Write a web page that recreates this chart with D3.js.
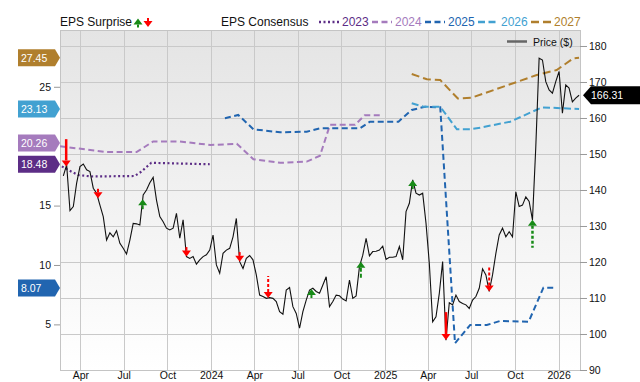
<!DOCTYPE html>
<html>
<head>
<meta charset="utf-8">
<script src="https://cdn.jsdelivr.net/npm/d3@7"></script>
<style>
  html, body { margin: 0; padding: 0; background: #fff; }
  svg { display: block; font-family: "Liberation Sans", Arial, sans-serif; }
</style>
</head>
<body>
<div id="chart"></div>
<script>
"use strict";

// weekly closing price, one value per Friday starting at priceStart
const priceStart = "2023-02-24";
const weeklyPrice = [
    143.9, 147.0, 134.3, 135.4, 141.9, 146.5, 147.2, 145.6, 145.1, 140.5,
    139.1, 135.8, 132.6, 126.1, 128.1, 127.0, 128.7, 125.2, 123.8, 122.2,
    126.1, 130.7, 130.6, 130.3, 138.6, 140.0, 142.0, 143.5, 137.2, 132.6,
    131.2, 129.4, 128.9, 129.4, 133.5, 126.6, 131.7, 121.5, 121.0, 121.5,
    119.4, 120.6, 121.5, 122.0, 123.3, 127.5, 119.2, 116.9, 122.4, 123.3,
    123.8, 127.0, 132.1, 120.1, 118.2, 121.0, 121.8, 120.6, 116.4, 110.8,
    110.4, 109.9, 110.1, 109.9, 109.0, 106.2, 105.5, 112.2, 112.9, 107.6,
    105.7, 101.6, 106.2, 109.4, 112.2, 112.7, 111.8, 111.3, 113.6, 115.9,
    107.6, 109.0, 110.8, 110.6, 109.7, 109.2, 115.0, 109.9, 110.6, 118.7,
    121.9, 126.6, 121.7, 122.9, 123.0, 123.3, 124.4, 120.7, 121.3, 121.3,
    121.5, 124.3, 120.6, 134.0, 136.3, 142.8, 139.1, 138.6, 139.1, 130.8,
    119.6, 103.4, 104.8, 111.3, 120.1, 98.3, 108.7, 108.1, 110.8, 109.0,
    108.5, 108.1, 107.1, 109.4, 110.4, 112.7, 118.1, 116.4, 111.8, 116.4,
    122.4, 127.5, 129.4, 127.0, 128.4, 127.0, 139.5, 135.4, 135.8, 138.1,
    136.8, 131.7, 152.0, 176.6, 176.1, 170.1, 167.8, 166.9, 170.1, 172.9,
    161.3, 169.2, 168.3, 164.5, 165.5, 166.31
];
const lastPrice = 166.31;

// earnings surprises (percent), drawn as arrows on the price line
const surpriseDates = [
    "2023-03-02", "2023-05-08", "2023-08-10", "2023-11-10",
    "2024-03-01", "2024-04-30", "2024-07-30", "2024-11-11",
    "2025-02-28", "2025-05-09", "2025-08-08", "2025-11-07"
];
const surprisePct = [-12.5, -1.0, 1.2, -1.0, -1.0, -9.0, 1.5, 6.5, 0.8, -13.0, -10.5, 13.0];

// EPS consensus by fiscal year: [date, estimate]
const consensusYears = ["2023", "2024", "2025", "2026", "2027"];
const eps2023 = [
    ["2023-02-21", 18.3], ["2023-03-06", 18.0], ["2023-03-27", 17.57], ["2023-04-24", 17.45],
    ["2023-07-24", 17.49], ["2023-08-07", 17.85], ["2023-08-28", 18.6], ["2023-12-29", 18.48]
];
const eps2024 = [
    ["2023-02-17", 20.0], ["2023-05-26", 19.5], ["2023-07-28", 19.5], ["2023-09-01", 20.4],
    ["2023-10-27", 20.4], ["2023-12-30", 20.1], ["2024-02-24", 20.2], ["2024-03-30", 18.9],
    ["2024-05-25", 18.6], ["2024-07-20", 18.7], ["2024-08-17", 19.2], ["2024-09-07", 21.8],
    ["2024-10-30", 21.8], ["2024-11-19", 22.6], ["2024-12-28", 22.6]
];
const eps2025 = [
    ["2024-01-30", 22.35], ["2024-02-27", 22.63], ["2024-03-30", 21.42], ["2024-05-25", 21.17],
    ["2024-07-20", 21.22], ["2024-08-17", 21.5], ["2024-11-09", 21.5], ["2024-11-30", 22.06],
    ["2025-01-29", 22.06], ["2025-02-26", 23.05], ["2025-03-26", 23.32], ["2025-04-27", 23.27],
    ["2025-05-28", 3.41], ["2025-06-29", 4.95], ["2025-08-03", 4.95], ["2025-08-31", 5.29],
    ["2025-10-30", 5.23], ["2025-11-30", 8.09], ["2025-12-28", 8.07]
];
const eps2026 = [
    ["2025-02-26", 23.61], ["2025-03-23", 23.32], ["2025-04-27", 23.32], ["2025-06-01", 21.42],
    ["2025-06-29", 21.42], ["2025-07-20", 21.56], ["2025-09-21", 22.06], ["2025-11-27", 23.27],
    ["2026-02-13", 23.13]
];
const eps2027 = [
    ["2025-02-26", 26.08], ["2025-03-30", 25.63], ["2025-04-27", 25.57], ["2025-06-03", 24.01],
    ["2025-07-02", 24.08], ["2025-09-21", 25.21], ["2025-11-16", 25.99], ["2025-12-28", 26.41],
    ["2026-02-01", 27.4], ["2026-02-13", 27.45]
];
const latestEps = [18.48, 20.26, 8.07, 23.13, 27.45];

const epsTicks = [5, 10, 15, 25];
const priceTicks = [90, 100, 110, 120, 130, 140, 150, 160, 170, 180];

const parseDate = d3.utcParse("%Y-%m-%d");

function main() {
    const width = 640, height = 382;
    const plot = { left: 60, right: 580, top: 30, bottom: 370 };

    const svg = d3.select("#chart").append("svg")
        .attr("width", width)
        .attr("height", height);

    const x = d3.scaleUtc()
        .domain([parseDate("2023-02-17"), parseDate("2026-02-15")])
        .range([plot.left, plot.right]);
    const yPrice = d3.scaleLinear().domain([90, 184.44]).range([plot.bottom, plot.top]);
    const yEps = d3.scaleLinear().domain([1.16, 29.78]).range([plot.bottom, plot.top]);

    // background gradient
    const defs = svg.append("defs");
    const grad = defs.append("linearGradient")
        .attr("id", "bg").attr("x1", 0).attr("y1", 0).attr("x2", 0).attr("y2", 1);
    grad.append("stop").attr("offset", "0%").attr("stop-color", "#e4e4e4");
    grad.append("stop").attr("offset", "100%").attr("stop-color", "#ffffff");
    defs.append("clipPath").attr("id", "plotClip").append("rect")
        .attr("x", plot.left).attr("y", plot.top)
        .attr("width", plot.right - plot.left).attr("height", plot.bottom - plot.top);

    svg.append("rect")
        .attr("x", plot.left).attr("y", plot.top)
        .attr("width", plot.right - plot.left).attr("height", plot.bottom - plot.top)
        .attr("fill", "url(#bg)");

    // grid
    const monthTicks = x.ticks(d3.utcMonth.every(3));
    const grid = svg.append("g").attr("stroke", "#c9c9c9").attr("stroke-width", 1);
    grid.selectAll("line.h").data(priceTicks).join("line")
        .attr("x1", plot.left).attr("x2", plot.right)
        .attr("y1", d => Math.round(yPrice(d)) + 0.5).attr("y2", d => Math.round(yPrice(d)) + 0.5);
    grid.selectAll("line.v").data(monthTicks).join("line")
        .attr("y1", plot.top).attr("y2", plot.bottom)
        .attr("x1", d => Math.round(x(d)) + 0.5).attr("x2", d => Math.round(x(d)) + 0.5);
    svg.append("rect")
        .attr("x", plot.left + 0.5).attr("y", plot.top + 0.5)
        .attr("width", plot.right - plot.left).attr("height", plot.bottom - plot.top)
        .attr("fill", "none").attr("stroke", "#c4c4c4");

    // axes
    const rightAxis = svg.append("g")
        .attr("transform", `translate(${plot.right},0)`)
        .call(d3.axisRight(yPrice).tickValues(priceTicks).tickSize(7).tickPadding(2));
    const leftAxis = svg.append("g")
        .attr("transform", `translate(${plot.left},0)`)
        .call(d3.axisLeft(yEps).tickValues(epsTicks).tickSize(6).tickPadding(3));
    const bottomAxis = svg.append("g")
        .attr("transform", `translate(0,${plot.bottom})`)
        .call(d3.axisBottom(x).tickValues(monthTicks).tickSize(0).tickPadding(1.5)
            .tickFormat(d => d.getUTCMonth() === 0 ? d3.utcFormat("%Y")(d) : d3.utcFormat("%b")(d)));
    [rightAxis, leftAxis, bottomAxis].forEach(a => {
        a.select(".domain").remove();
        a.selectAll(".tick line").attr("stroke", "#999");
        a.selectAll("text").attr("fill", "#111").style("font-size", "10.5px");
    });

    const chartArea = svg.append("g").attr("clip-path", "url(#plotClip)");

    // consensus lines
    const series = [eps2023, eps2024, eps2025, eps2026, eps2027];
    const colors = ["#5c2d86", "#a57bbd", "#2165b0", "#42a1d1", "#b07f2d"];
    const dashes = ["2,2.5", "6,3.5", "6,3.5", "7,3.5", "8,4"];
    const widths = [2.2, 2, 2, 2, 2];
    const epsLine = d3.line().x(d => x(parseDate(d[0]))).y(d => yEps(d[1]));
    series.forEach((s, i) => {
        chartArea.append("path")
            .datum(s)
            .attr("d", epsLine)
            .attr("fill", "none")
            .attr("stroke", colors[i])
            .attr("stroke-width", widths[i])
            .attr("stroke-dasharray", dashes[i]);
    });

    // price line
    const start = parseDate(priceStart);
    const prices = weeklyPrice.map((p, i) => ({ date: d3.utcDay.offset(start, 7 * i), price: p }));
    chartArea.append("path")
        .datum(prices)
        .attr("d", d3.line().x(d => x(d.date)).y(d => yPrice(d.price)))
        .attr("fill", "none")
        .attr("stroke", "#111")
        .attr("stroke-width", 1.1);

    // surprise arrows
    const bisect = d3.bisector(d => d.date).left;
    function priceAt(date) {
        const i = Math.max(1, Math.min(prices.length - 1, bisect(prices, date)));
        const a = prices[i - 1], b = prices[i];
        const t = (date - a.date) / (b.date - a.date);
        return a.price + (b.price - a.price) * Math.max(0, Math.min(1, t));
    }
    const lenScale = d3.scaleLinear().domain([0, 13]).range([8, 28]).clamp(true);
    const shaftDash = [null, null, null, null, null, "3,2", "3,2", "4,2", null, null, "3,2", "3,2"];
    surpriseDates.forEach((ds, i) => {
        const date = parseDate(ds);
        const cx = x(date);
        const tip = yPrice(priceAt(date));
        const up = surprisePct[i] > 0;
        const color = up ? "#178a17" : "#ff0000";
        const len = lenScale(Math.abs(surprisePct[i]));
        const dir = up ? 1 : -1; // shaft goes below the tip for up arrows
        drawArrow(svg, cx, tip, dir, len, color, shaftDash[i], Math.abs(surprisePct[i]) > 11 ? 2.5 : 2);
    });

    // price legend inside plot
    svg.append("line")
        .attr("x1", 507).attr("x2", 527).attr("y1", 41.5).attr("y2", 41.5)
        .attr("stroke", "#666").attr("stroke-width", 2.5);
    svg.append("text").attr("x", 533).attr("y", 45.5)
        .attr("fill", "#111").style("font-size", "10.5px").text("Price ($)");

    // current price tag
    const py = yPrice(lastPrice);
    svg.append("path")
        .attr("d", `M583,${py} L591,${py - 9} L640,${py - 9} L640,${py + 9} L591,${py + 9} Z`)
        .attr("fill", "#000");
    svg.append("text").attr("x", 591).attr("y", py + 4)
        .attr("fill", "#fff").style("font-size", "10.5px").text(lastPrice.toFixed(2));

    // latest EPS tags on the left
    latestEps.forEach((v, i) => {
        const ty = yEps(v);
        svg.append("path")
            .attr("d", `M18,${ty - 8.5} L55,${ty - 8.5} L60,${ty} L55,${ty + 8.5} L18,${ty + 8.5} Z`)
            .attr("fill", colors[i]);
        svg.append("text").attr("x", 21).attr("y", ty + 4)
            .attr("fill", "#fff").style("font-size", "10.5px").text(v.toFixed(2));
    });

    // top legend
    const legend = svg.append("g").style("font-size", "12px");
    legend.append("text").attr("x", 60).attr("y", 26).attr("fill", "#111").text("EPS Surprise");
    drawArrow(legend, 138, 18.5, 1, 9, "#178a17", null, 2);
    drawArrow(legend, 148, 27, -1, 9, "#ff0000", null, 2);
    legend.append("text").attr("x", 221).attr("y", 26).attr("fill", "#111").text("EPS Consensus");
    consensusYears.forEach((yr, i) => {
        const tx = 342 + 53 * i;
        legend.append("line")
            .attr("x1", tx - 23).attr("x2", tx - 3).attr("y1", 22).attr("y2", 22)
            .attr("stroke", colors[i]).attr("stroke-width", widths[i] + 0.5)
            .attr("stroke-dasharray", dashes[i]);
        legend.append("text").attr("x", tx).attr("y", 26).attr("fill", colors[i]).text(yr);
    });
}

function drawArrow(parent, cx, tip, dir, len, color, dash, sw) {
    // dir = 1: arrow points up, shaft below the tip; dir = -1: points down
    const head = 6, half = 4.5;
    const g = parent.append("g");
    g.append("line")
        .attr("x1", cx).attr("x2", cx)
        .attr("y1", tip + dir * head).attr("y2", tip + dir * len)
        .attr("stroke", color).attr("stroke-width", sw)
        .attr("stroke-dasharray", dash);
    g.append("path")
        .attr("d", `M${cx},${tip} L${cx - half},${tip + dir * head} L${cx + half},${tip + dir * head} Z`)
        .attr("fill", color);
}

main();
</script>
</body>
</html>
